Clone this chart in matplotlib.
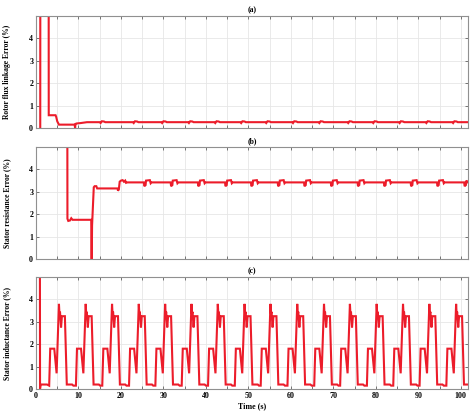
import matplotlib
matplotlib.use("Agg")
import matplotlib.pyplot as plt
from matplotlib.ticker import MultipleLocator, FuncFormatter
import numpy as np

plt.rcParams['font.family'] = ['Liberation Serif', 'DejaVu Serif']
plt.rcParams['font.weight'] = 'bold'

# ---------------- data ----------------
# (a) rotor flux linkage error: transient breakpoints
a_time = [1.0, 1.05, 2.95, 3.0, 4.6, 4.75, 5.0, 5.4, 9.1, 9.2, 9.3, 9.5, 10.5, 12.0, 101.7]
a_value = [0.0, 20.0, 20.0, 0.57, 0.57, 0.5, 0.3, 0.15, 0.15, 0.0, 0.18, 0.2, 0.22, 0.26, 0.26]
# small periodic wiggles in steady state
a_wiggle_times = [15.0, 22.8, 29.5, 35.8, 42.0, 48.1, 54.0, 60.3, 66.5, 73.3, 79.2, 85.4, 91.7, 98.0]
a_wiggle_off = [0.0, 0.2, 0.5, 1.0, 1.3]
a_wiggle_val = [0.26, 0.22, 0.30, 0.29, 0.26]

# (b) stator resistance error: transient breakpoints
b_time = [7.3, 7.4, 7.6, 8.0, 8.3, 8.6, 13.0, 13.1, 13.2, 13.6, 13.8, 14.2, 14.4, 19.2,
          19.3, 19.5, 19.7, 20.0, 20.4, 20.7, 21.0, 21.2, 21.5, 101.7]
b_value = [20.0, 1.8, 1.7, 1.72, 1.82, 1.75, 1.75, -0.5, 1.5, 3.2, 3.25, 3.25, 3.15, 3.15,
           3.05, 3.1, 3.45, 3.5, 3.52, 3.45, 3.5, 3.4, 3.42, 3.42]
# periodic dip/bump features
b_feature_times = [25.4, 31.7, 38.1, 44.5, 50.6, 56.9, 63.1, 69.4, 75.7, 81.9, 88.2, 94.4, 100.8]
b_feature_off = [0.0, 0.1, 0.4, 0.5, 1.4, 1.6, 1.8]
b_feature_val = [3.42, 3.25, 3.3, 3.5, 3.52, 3.38, 3.42]

# (c) stator inductance error: start-up spike + periodic cycles
c_start_time = [0.85, 0.95, 1.1, 2.6]
c_start_value = [20.0, 0.0, 0.2, 0.2]
c_peak_times = [5.4, 11.7, 17.9, 24.2, 30.4, 36.6, 42.8, 49.1, 55.2, 61.5, 67.8, 73.9,
                80.2, 86.4, 92.6, 98.9]
c_cycle_off = [-2.3, -2.05, -1.1, -0.55, 0.0, 0.12, 0.25, 0.5, 0.7, 1.4, 1.85, 3.1, 3.4]
c_cycle_val = [0.15, 1.8, 1.8, 0.7, 3.8, 3.35, 3.45, 2.75, 3.25, 3.25, 0.2, 0.2, 0.15]

titles = ['(a)', '(b)', '(c)']
ylabels = ['Rotor flux linkage Error (%)', 'Stator resistance Error (%)',
           'Stator inductance Error (%)']
x_ticks_labels = [0, 10, 20, 30, 40, 50, 60, 70, 80, 90, 100]
y_ticks = [0, 1, 2, 3, 4]

# ---------------- build series ----------------
# (a)
a_pts = list(zip(a_time, a_value))
for W in a_wiggle_times:
    a_pts += [(W + o, v) for o, v in zip(a_wiggle_off, a_wiggle_val)]
a_pts.sort(key=lambda p: p[0])
ax_t = [p[0] for p in a_pts]; ax_v = [p[1] for p in a_pts]

# (b)
b_pts = list(zip(b_time, b_value))
for F in b_feature_times:
    b_pts += [(F + o, v) for o, v in zip(b_feature_off, b_feature_val)]
b_pts.sort(key=lambda p: p[0])
bx_t = [p[0] for p in b_pts]; bx_v = [p[1] for p in b_pts]

# (c)
cx_t = list(c_start_time); cx_v = list(c_start_value)
for P in c_peak_times:
    cx_t += [P + o for o in c_cycle_off]
    cx_v += list(c_cycle_val)

series = [(ax_t, ax_v), (bx_t, bx_v), (cx_t, cx_v)]

# ---------------- figure ----------------
fig = plt.figure(figsize=(4.74, 4.12), dpi=100)
left, width = 36 / 474, 432 / 474
tops = [16, 147, 277]
h = 112
red = '#ec1c2a'


def xfmt(x, p):
    r = int(round(x))
    if abs(x - r) < 1e-6 and r in x_ticks_labels:
        return str(r)
    return ""


for i, (t, v) in enumerate(series):
    ax = fig.add_axes([left, 1 - (tops[i] + h) / 412, width, h / 412])
    ax.plot(t, v, color=red, lw=1.5, solid_joinstyle='miter')
    ax.set_xlim(0, 101.7)
    ax.set_ylim(0, 5)
    ax.set_yticks(y_ticks)
    ax.xaxis.set_major_locator(MultipleLocator(5))
    ax.grid(True, color='#e6e6e6', lw=0.6)
    ax.set_axisbelow(True)
    for s in ax.spines.values():
        s.set_color('#909090')
        s.set_linewidth(0.8)
    ax.tick_params(direction='in', top=True, right=True, length=2.5, width=0.6,
                   color='#606060', labelsize=5.8, pad=2)
    ax.set_title(titles[i], fontsize=5.5, fontweight='bold', pad=3)
    ax.set_ylabel(ylabels[i], fontsize=5.5, fontweight='bold')
    ax.yaxis.set_label_coords(-0.057, 0.5)
    if i < 2:
        ax.tick_params(labelbottom=False)
    else:
        ax.xaxis.set_major_formatter(FuncFormatter(xfmt))
        ax.set_xlabel('Time (s)', fontsize=5.8, fontweight='bold', labelpad=2)

fig.savefig('out.png', dpi=100)
